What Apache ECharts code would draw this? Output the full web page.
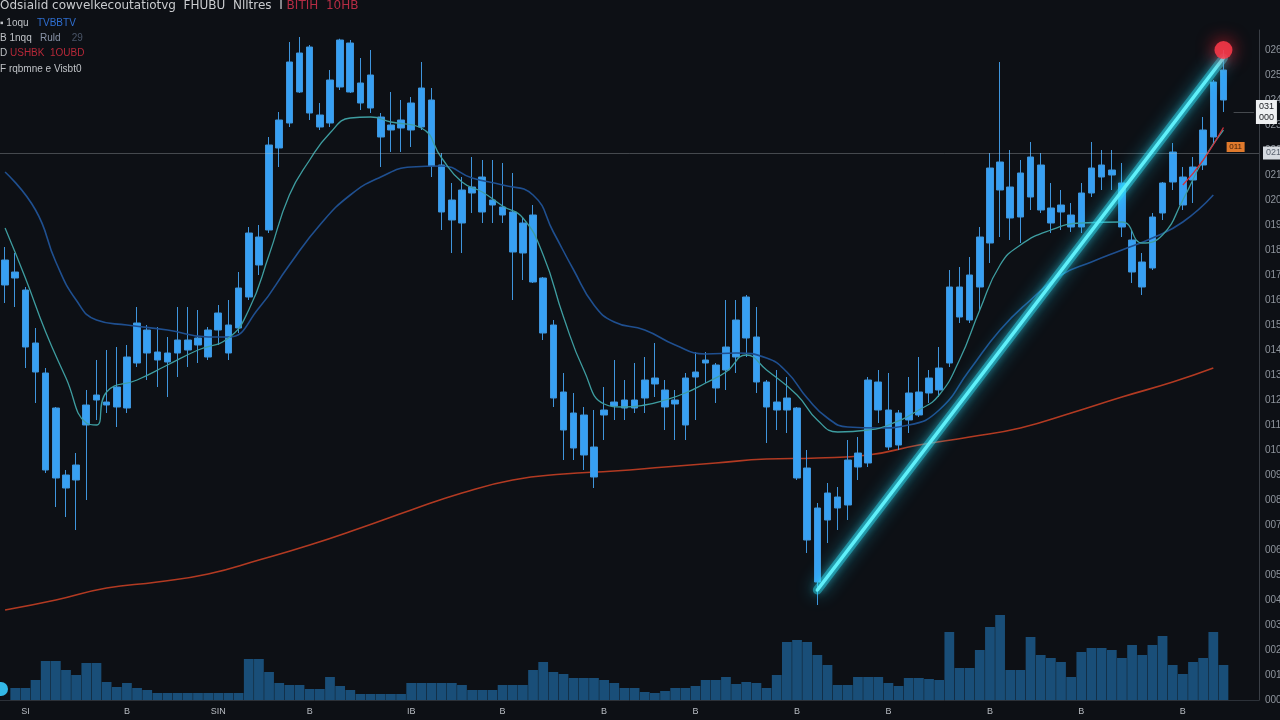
<!DOCTYPE html>
<html><head><meta charset="utf-8">
<script src="https://cdn.jsdelivr.net/npm/echarts@6/dist/echarts.min.js"></script>
<style>html,body{margin:0;padding:0;background:#0d1015;overflow:hidden}#c{width:1280px;height:720px;}</style>
</head><body><div id="c"></div>
<script>
// ---- data ----
const categoryCount = 124;
const tickIndex = [2, 12, 21, 30, 40, 49, 59, 68, 78, 87, 97, 106, 116];
const tickText  = ['SI', 'B', 'SIN', 'B', 'IB', 'B', 'B', 'B', 'B', 'B', 'B', 'B', 'B'];

// [open, close, low, high]
const ohlc = [
[17.6,16.6,15.88,18.12],[16.88,17.12,15.72,17.88],[16.4,14.12,13.28,16.52],[14.28,13.12,11.88,14.88],
[13.08,9.2,9.08,13.28],[11.68,8.88,7.72,11.72],[9.0,8.48,7.32,9.2],[8.8,9.4,6.8,9.88],
[11.0,11.8,8.0,12.4],[12.0,12.2,11.2,13.6],[11.8,11.92,11.48,14.0],[11.72,12.52,10.92,14.12],
[11.68,13.72,11.48,14.2],[13.48,15.08,13.32,15.72],[14.8,13.88,12.8,15.0],[13.6,13.92,12.52,14.92],
[13.52,13.88,12.12,14.52],[13.88,14.4,12.92,15.72],[14.4,14.0,13.32,15.72],[14.2,14.48,13.48,15.6],
[13.72,14.8,13.6,14.92],[14.8,15.48,14.2,15.8],[15.0,13.88,13.6,16.0],[14.88,16.48,14.68,17.12],
[16.12,18.68,16.0,18.92],[17.4,18.52,17.0,19.0],[18.8,22.2,18.68,22.52],[22.08,23.2,21.32,23.52],
[23.08,25.52,22.92,26.32],[24.32,25.88,24.28,26.52],[26.12,23.48,23.2,26.2],[23.4,22.92,22.8,23.88],
[23.08,24.8,22.92,25.2],[24.52,26.4,24.4,26.45],[26.28,24.32,24.28,26.4],[24.68,23.88,23.6,25.68],
[23.68,25.0,23.48,26.0],[23.32,22.52,21.32,23.48],[22.8,23.0,21.92,24.32],[23.2,22.88,21.92,24.0],
[22.8,23.88,22.12,24.12],[22.92,24.48,22.8,25.52],[24.0,21.36,20.92,24.48],[21.4,19.52,18.8,21.88],
[19.2,20.0,17.88,20.68],[20.4,19.08,17.88,20.92],[20.28,20.52,19.48,21.72],[19.52,20.92,19.08,21.6],
[20.0,19.8,19.08,21.6],[19.72,19.4,19.08,21.48],[19.52,17.92,16.0,21.08],[17.88,19.08,16.8,19.32],
[19.4,16.72,16.68,19.8],[16.88,14.68,14.4,16.92],[15.0,12.08,11.72,15.2],[12.32,10.8,9.6,13.08],
[11.48,10.08,9.6,12.28],[9.8,11.4,9.2,11.72],[10.12,8.92,8.48,11.6],[11.4,11.6,10.4,12.52],
[11.76,11.92,11.2,13.6],[11.68,12.0,11.2,12.8],[12.0,11.68,11.48,13.48],[12.08,12.8,11.48,13.72],
[12.88,12.64,12.12,14.28],[12.4,11.72,10.8,12.8],[11.84,12.0,10.4,12.4],[11.0,12.88,10.4,13.08],
[12.92,13.12,11.2,13.92],[13.48,13.6,12.68,13.92],[13.4,12.48,11.88,13.48],[13.2,14.12,12.4,16.0],
[13.72,15.2,13.08,16.0],[14.48,16.12,13.72,16.2],[14.52,12.72,12.28,15.72],[12.72,11.72,10.28,12.8],
[11.92,11.6,10.8,13.2],[11.6,12.08,10.68,12.92],[11.68,8.88,8.8,11.72],[9.28,6.4,5.88,10.0],
[7.68,4.72,3.8,7.88],[7.2,8.28,6.28,8.68],[8.12,7.68,6.8,8.52],[7.8,9.6,7.2,10.4],
[9.32,9.88,8.8,10.52],[9.48,12.8,9.32,12.92],[12.72,11.6,11.08,13.2],[11.6,10.12,10.0,13.08],
[10.2,11.48,10.0,11.6],[11.2,12.28,10.68,12.92],[11.4,12.32,11.32,13.72],[12.28,12.88,11.88,13.2],
[12.4,13.28,12.12,14.12],[13.48,16.52,13.32,17.2],[16.52,15.32,15.08,17.32],[15.2,17.0,15.08,17.72],
[16.52,18.52,15.6,18.92],[18.28,21.28,17.48,21.88],[21.52,20.4,18.52,25.52],[20.52,19.28,18.4,22.0],
[19.32,21.08,18.28,21.6],[20.12,21.72,19.6,22.32],[21.4,19.6,19.48,21.88],[19.68,19.08,18.68,20.68],
[19.52,19.8,18.8,20.4],[19.4,18.92,18.72,19.88],[18.92,20.28,18.68,20.68],[20.28,21.28,20.12,22.32],
[20.92,21.4,20.4,22.0],[21.2,21.0,20.4,22.0],[20.68,18.92,18.52,21.48],[18.4,17.12,16.68,18.8],
[17.52,16.52,16.2,17.88],[17.28,19.32,17.2,19.48],[19.48,20.68,19.2,20.72],[20.72,21.92,20.4,22.28],
[20.92,19.8,19.6,21.32],[20.8,21.32,19.88,21.72],[21.4,22.8,21.2,23.32],[22.52,24.72,22.28,24.8],
[24.0,25.2,23.52,26.0]
];

const volume = [
0,12,12,20,39,39,30,25,37,37, 18,13,17,12,10,7,7,7,7,7, 7,7,7,7,41,41,28,17,15,15,
11,11,23,14,10,6,6,6,6,6, 17,17,17,17,17,15,10,10,10,15, 15,15,30,38,28,26,22,22,22,20,
17,12,12,8,7,9,12,12,14,20, 20,23,16,18,17,12,25,58,60,58, 45,35,15,15,23,23,23,17,14,22,
22,21,20,68,32,32,50,73,85,30, 30,63,45,42,38,23,48,52,52,50, 42,55,45,55,64,35,26,38,42,68,
35
];

// moving averages read at sample points: [candle index, value]
const maFast = [[0,18.88],[2,16.88],[4,14.72],[6,12.88],[8,11.08],[9,11.0],[10,12.32],[13,12.8],[16,13.4],
 [19,14.0],[22,14.48],[24,15.6],[26,17.8],[28,20.2],[30,21.6],[32,22.68],[34,23.28],[36,23.32],[38,23.12],
 [41,22.88],[43,21.68],[45,20.72],[47,20.32],[49,19.76],[51,19.28],[53,17.8],[55,15.32],[57,13.2],[59,11.84],
 [61,11.72],[63,11.8],[65,12.0],[67,12.28],[69,12.68],[71,13.12],[73,13.8],[75,13.2],[78,12.2],[80,11.2],
 [82,10.72],[85,10.8],[87,11.0],[90,11.6],[92,12.2],[94,13.6],[96,15.6],[98,17.4],[100,18.2],[103,18.8],
 [106,19.08],[110,19.12],[112,18.28],[114,18.6],[116,20.0],[118,21.6],[120,22.8]];
const maMid = [[0,21.12],[3,19.6],[5,17.52],[7,16.0],[9,15.2],[12,15.0],[16,14.8],[20,14.52],[22,14.52],
 [25,15.68],[28,17.4],[31,19.0],[34,20.2],[37,20.92],[40,21.32],[43,21.36],[46,20.88],[49,20.6],[52,20.2],
 [54,18.72],[56,17.2],[58,15.8],[60,15.12],[63,14.8],[66,14.2],[69,13.84],[72,13.88],[75,13.68],[77,13.12],
 [79,12.08],[81,11.28],[83,10.92],[86,10.88],[89,11.0],[92,11.6],[95,13.2],[98,14.8],[101,16.0],[104,17.0],
 [107,17.52],[110,18.0],[113,18.48],[116,19.12],[119,20.2]];
const maLong = [[0,3.6],[5,4.0],[10,4.48],[15,4.72],[20,5.04],[25,5.6],[30,6.2],[35,6.88],[40,7.6],[45,8.28],
 [50,8.8],[55,9.04],[60,9.16],[65,9.32],[70,9.48],[75,9.64],[80,9.68],[85,9.8],[90,10.2],[95,10.52],
 [100,10.88],[105,11.48],[110,12.12],[115,12.72],[119,13.28]];
const maRedShort = [[116,20.6],[118,21.6],[120,22.9]];
const trendLine = [[80,4.4],[120,25.68]];
const peakPoint = [[120,26.0]];
const lastPrice = 21.88;
const markPrice = 23.52;

const categories = Array.from({length: categoryCount}, (_, i) => 'K' + i);

const chart = echarts.init(document.getElementById('c'), null, {renderer: 'canvas'});
const fontFam = '"Liberation Sans", Arial, sans-serif';
const wideFam = '"DejaVu Sans", Verdana, sans-serif';

const option = {
  backgroundColor: '#0d1015',
  animation: false,
  textStyle: {fontFamily: fontFam},
  grid: [
    {left: 0, right: 21, top: 30, bottom: 20, outerBoundsMode: 'none', containLabel: false},
    {left: 0, right: 21, top: 600, bottom: 20, outerBoundsMode: 'none', containLabel: false}
  ],
  xAxis: [
    {type: 'category', data: categories, gridIndex: 0, boundaryGap: true,
     axisLine: {show: true, lineStyle: {color: '#2c3138'}}, axisTick: {show: false},
     axisLabel: {show: true, color: '#b8bcc2', fontSize: 9, margin: 7,
       interval: (i) => tickIndex.indexOf(i) >= 0,
       formatter: (v, i) => { const k = tickIndex.indexOf(i); return k >= 0 ? tickText[k] : ''; }},
     splitLine: {show: false}},
    {type: 'category', data: categories, gridIndex: 1, boundaryGap: true, show: false}
  ],
  yAxis: [
    {type: 'value', gridIndex: 0, position: 'right', min: 0, max: 26.8, interval: 1,
     axisLine: {show: true, lineStyle: {color: '#3a3f46'}}, axisTick: {show: false},
     splitLine: {show: false},
     axisLabel: {color: '#8f959d', fontSize: 10, margin: 6, showMaxLabel: false,
       formatter: (v) => '0' + String(Math.round(v)).padStart(2, '0') + '0'}},
    {type: 'value', gridIndex: 1, min: 0, max: 100, show: false}
  ],
  graphic: [
    {type: 'text', left: 0, top: 0, z: 100, style: {
      text: '{g|Odsialid cowvelkecoutatiotvg  FHUBU  Nlltres  I }{r|BITIH  10HB}',
      font: '12px ' + wideFam,
      rich: {g: {fill: '#c9cbce', fontSize: 12, fontFamily: wideFam}, r: {fill: '#b52c44', fontSize: 12, fontFamily: wideFam}}}},
    {type: 'text', left: 0, top: 18, z: 100, style: {
      text: '{g|▪ 1oqu   }{b|TVBBTV}', rich: {g: {fill: '#bfc2c6', fontSize: 10}, b: {fill: '#2f6fd2', fontSize: 10}}}},
    {type: 'text', left: 0, top: 33, z: 100, style: {
      text: '{g|B 1nqq   }{d|Ruld}{e|    29}', rich: {g: {fill: '#bfc2c6', fontSize: 10}, d: {fill: '#8a94a8', fontSize: 10}, e: {fill: '#4a5568', fontSize: 10}}}},
    {type: 'text', left: 0, top: 48, z: 100, style: {
      text: '{g|D }{r|USHBK  1OUBD}', rich: {g: {fill: '#bfc2c6', fontSize: 10}, r: {fill: '#b52838', fontSize: 10}}}},
    {type: 'text', left: 0, top: 64, z: 100, style: {
      text: 'F rqbmne e Visbt0', fill: '#bfc2c6', font: '10px ' + fontFam}},
    {type: 'circle', left: -6, top: 682, z: 100, shape: {r: 7}, style: {fill: '#33b8e6'}}
  ],
  series: [
    {type: 'bar', name: 'vol', xAxisIndex: 1, yAxisIndex: 1, data: volume,
     barCategoryGap: '4%', itemStyle: {color: '#1a527d', opacity: 0.95}, z: 1},
    {type: 'line', name: 'maLong', data: maLong, smooth: true, connectNulls: true, showSymbol: false, symbol: 'none',
     lineStyle: {color: '#b23a22', width: 1.6}, z: 2},
    {type: 'candlestick', name: 'price', data: ohlc, barWidth: '70%',
     itemStyle: {color: '#37a0f3', color0: '#37a0f3', borderColor: '#3f95dc', borderColor0: '#3f95dc', borderWidth: 1},
     z: 3,
     markLine: {silent: true, symbol: 'none', animation: false,
       data: [
         {yAxis: lastPrice,
          label: {show: true, position: 'end', distance: 4, formatter: '0219', color: '#5b6470', fontSize: 9,
                  backgroundColor: '#d5dae0', padding: [2, 3]}},
         [{coord: [121, markPrice]}, {coord: [123, markPrice],
           label: {show: true, position: 'end', distance: 2, formatter: '031\n000', color: '#1a1d22', fontSize: 9,
                   backgroundColor: '#eef0f2', padding: [1, 3], lineHeight: 11}}]
       ],
       lineStyle: {color: 'rgba(190,195,200,0.32)', width: 1, type: 'solid'}},
     markPoint: {silent: true, animation: false,
       data: [{coord: [121, lastPrice], symbol: 'rect', symbolSize: [18, 10], symbolOffset: [2, -6],
               itemStyle: {color: '#e07a2c'},
               label: {show: true, formatter: '011', color: '#3a1a05', fontSize: 8, position: 'inside'}}]}
    },
    {type: 'line', name: 'maMid', data: maMid, smooth: true, showSymbol: false, symbol: 'none',
     lineStyle: {color: '#1f4f8f', width: 1.6}, z: 4},
    {type: 'line', name: 'maFast', data: maFast, smooth: true, showSymbol: false, symbol: 'none',
     lineStyle: {color: '#3e9da0', width: 1.3}, z: 4},
    {type: 'line', name: 'maRed', data: maRedShort, smooth: true, showSymbol: false, symbol: 'none',
     lineStyle: {color: '#d0303c', width: 1.3}, z: 4},
    {type: 'line', name: 'trendGlow', data: trendLine, showSymbol: false, symbol: 'none',
     lineStyle: {color: 'rgba(40,220,240,0.45)', width: 9, shadowBlur: 18, shadowColor: '#20d8ff', cap: 'round'}, z: 6},
    {type: 'line', name: 'trend', data: trendLine, showSymbol: false, symbol: 'none',
     lineStyle: {color: '#5ff0fa', width: 3.5, shadowBlur: 8, shadowColor: '#40e8ff', cap: 'round'}, z: 7},
    {type: 'scatter', name: 'peak', data: peakPoint, symbolSize: 18,
     itemStyle: {color: '#ff3a4a', shadowBlur: 18, shadowColor: '#ff2030', opacity: 0.85}, z: 8}
  ]
};
chart.setOption(option);
</script></body></html>
